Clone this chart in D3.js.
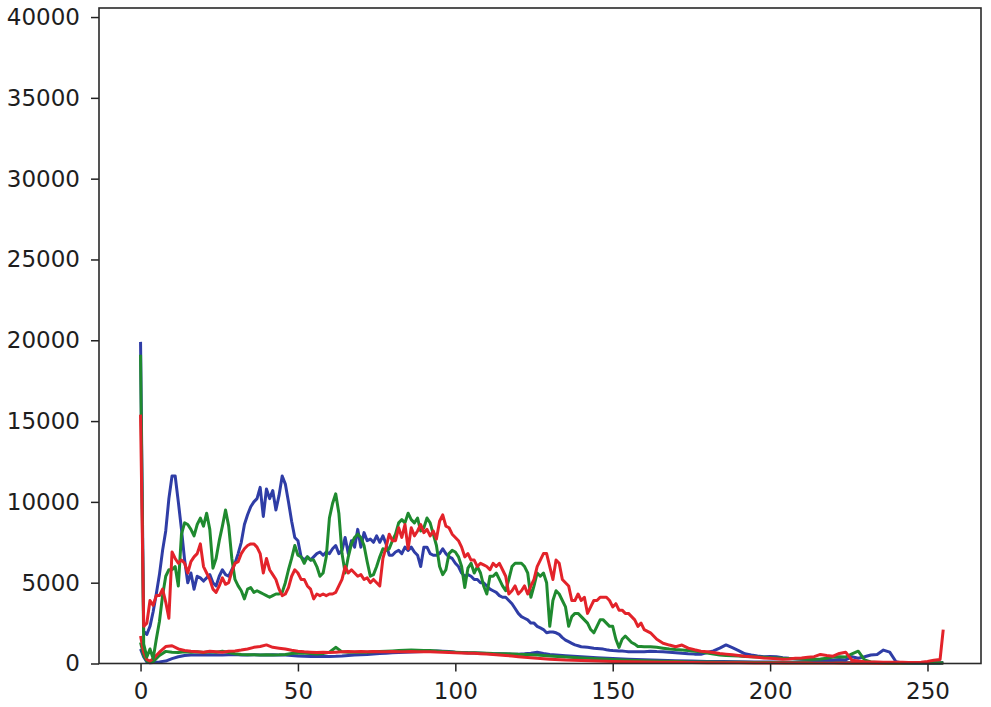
<!DOCTYPE html>
<html>
<head>
<meta charset="utf-8">
<script src="https://cdn.jsdelivr.net/npm/d3@7"></script>
<style>
  html, body { margin: 0; padding: 0; background: #fff; }
  svg { display: block; }
  .tick text { font-family: "DejaVu Sans", sans-serif; font-size: 23px; fill: #1e1e1e; }
</style>
</head>
<body>
<div id="chart"></div>
<script>
// intensity levels: every level up to 160, then every other level, then 255
const mainBins = d3.range(0, 161).concat(d3.range(162, 255, 2), [255]);
// the flat lower curves are sampled a bit coarser
const lowBins = [0, 1, 2, 3, 4].concat(d3.range(6, 131, 2), d3.range(135, 251, 5), [255]);

const xTicks = [0, 50, 100, 150, 200, 250];
const yTicks = [0, 5000, 10000, 15000, 20000, 25000, 30000, 35000, 40000];

const blueMain = [
  19900, 2000, 1800, 2300, 3200, 4300, 5500, 7000, 8200, 10200,
  11600, 11600, 10000, 8300, 6400, 5000, 5600, 4600, 5400, 5300,
  5100, 5300, 5500, 5000, 4800, 5400, 5800, 5500, 5400, 5800,
  6200, 6800, 7500, 8600, 9200, 9700, 10000, 10200, 10900, 9100,
  10800, 10200, 10700, 9500, 10400, 11600, 11100, 10000, 8800, 7800,
  7600, 6600, 6400, 6600, 6400, 6600, 6800, 6900, 6700, 6900,
  6800, 7100, 7300, 6800, 7000, 7800, 6800, 7600, 7200, 8300,
  7200, 8100, 7600, 7700, 7500, 7900, 7500, 7900, 7400, 6700,
  6700, 6900, 7000, 6800, 7200, 7000, 7200, 6900, 6700, 6000,
  7200, 7200, 6800, 6700, 6700, 6800, 7100, 6800, 6600, 6500,
  6200, 6000, 5600, 5400, 5500, 5400, 5200, 5200, 5000, 5000,
  4800, 4600, 4500, 4400, 4200, 4100, 4100, 3900, 3700, 3400,
  3100, 2900, 2800, 2700, 2500, 2500, 2300, 2200, 2100, 1900,
  1950, 1950, 1900, 1800, 1600, 1450, 1350, 1250, 1150, 1100,
  1040, 1020, 1000, 980, 950, 930, 910, 890, 850, 820,
  800, 790, 780, 770, 750, 730, 730, 730, 730, 730,
  720,
  760, 740, 730, 700, 670, 630, 600, 580, 570, 680,
  780, 950, 1150, 980, 800, 600, 530, 470, 420, 430,
  420, 360, 320, 290, 260, 240, 220, 230, 210, 220,
  240, 220, 420, 330, 420, 530, 560, 830, 700, 110,
  40, 30, 20, 20, 20, 20, 20,
  60
];

const greenMain = [
  19100, 1200, 400, 900, 300, 1500, 2600, 4200, 5400, 5800,
  5800, 6000, 4800, 8000, 8700, 8600, 8300, 7900, 8600, 9000,
  8500, 9300, 8300, 5900, 6500, 7600, 8500, 9500, 8500, 6500,
  5200, 4800, 4500, 4000, 4600, 4700, 4400, 4500, 4400, 4300,
  4200, 4100, 4200, 4300, 4300, 4400, 5000, 5800, 6500, 7300,
  6700, 6600, 6200, 6600, 6400, 6400, 6000, 5400, 5600, 6600,
  9000, 9900, 10500, 9300, 6800, 5600, 6600, 7400, 7800, 8000,
  7800, 7300, 6300, 5400, 5500, 6000, 6600, 7100, 7000, 7100,
  7600, 8000, 8700, 8900, 8700, 9300, 8900, 8700, 9000, 8200,
  8400, 9000, 8700, 8000, 7300, 6000, 5500, 5800, 6800, 7000,
  6900, 6600, 6000, 4700, 5900, 6200, 5600, 6000, 5600, 4800,
  4300, 5400, 5400, 5600, 5200, 4800, 4500, 5200, 6000, 6200,
  6200, 6200, 6000, 5600, 4100, 4800, 5600, 5400, 5600, 5000,
  2300, 3900, 4500, 4300, 3900, 3500, 2300, 2900, 3100, 3100,
  2900, 2700, 2500, 2100, 1900, 2300, 2700, 2700, 2500, 2300,
  2300, 1500, 1000, 1500, 1700, 1500, 1300, 1200, 1050, 1050,
  1040,
  1040, 1000, 950, 900, 860, 830, 800, 760, 730, 650,
  580, 520, 500, 480, 460, 440, 420, 400, 380, 360,
  340, 320, 310, 300, 280, 270, 260, 280, 330, 400,
  420, 400, 600, 760, 220, 100, 60, 40, 30, 30,
  30, 30, 30, 30, 30, 30, 30,
  40
];

const redMain = [
  15400, 2300, 2500, 3900, 3600, 4200, 4200, 4600, 3800, 2800,
  6900, 6500, 6200, 6400, 6200, 5600, 6300, 6600, 6800, 7400,
  6000, 5600, 5200, 4600, 4400, 4800, 5300, 4900, 5000, 5700,
  6200, 6300, 6800, 7100, 7300, 7400, 7400, 7200, 6800, 5600,
  6500, 5800, 5500, 5200, 4600, 4200, 4300, 4700, 5400, 5800,
  5600, 5200, 5200, 4800, 4600, 4000, 4300, 4200, 4300, 4200,
  4300, 4300, 4400, 4800, 5200, 6000, 5600, 5800, 5600, 5400,
  5500, 5200, 5300, 5000, 5200, 5000, 4800, 6500, 7200, 8000,
  7600, 7600, 8400, 7800, 8600, 7100, 8400, 7900, 8200, 8600,
  8100, 8300, 7900, 8200, 7700, 8800, 9200, 8500, 8400, 8000,
  7800, 7600, 7200, 6600, 6800, 6400, 6400, 6000, 6200, 6100,
  6000, 5800, 6200, 6000, 6200, 5800, 5400, 4300, 4500, 4800,
  4300, 4500, 4800, 4300, 4800, 5200, 6000, 6400, 6800, 6800,
  6000, 5200, 6400, 6200, 5200, 5000, 4800, 3900, 3900, 4300,
  3900, 4100, 3100, 3500, 3900, 3900, 4100, 4100, 4100, 3900,
  3500, 3700, 3300, 3300, 3100, 3100, 2900, 2700, 2300, 2500,
  2100,
  1900, 1500, 1250, 1140, 1040, 1140, 950, 850, 760, 730,
  680, 620, 580, 540, 500, 450, 420, 380, 340, 320,
  300, 260, 280, 320, 340, 380, 420, 560, 500, 450,
  620, 700, 200, 150, 110, 100, 90, 80, 80, 70,
  70, 60, 60, 80, 120, 200, 250,
  2100
];

const blueLow = [
  900, 400, 100, 50, 60,
  100, 150, 300, 420, 500, 530, 530, 520, 540, 530,
  520, 540, 550, 530, 520, 540, 530, 520, 540, 530,
  520, 500, 470, 450, 440, 430, 430, 440, 450, 470,
  500, 520, 540, 560, 590, 620, 640, 660, 680, 700,
  710, 720, 740, 760, 770, 760, 740, 700, 680, 660,
  650, 640, 620, 610, 600, 590, 580, 580, 600, 640,
  700, 620, 560,
  480, 420, 360, 310, 270, 230, 200, 170, 150, 130,
  120, 110, 100, 90, 80, 70, 60, 55, 50, 45,
  40, 35, 30, 30,
  30
];

const greenLow = [
  1300, 500, 150, 100, 120,
  500, 750, 700, 680, 720, 700, 730, 680, 720, 700,
  760, 680, 600, 560, 540, 540, 530, 540, 530, 540,
  560, 620, 650, 640, 620, 580, 620, 700, 1000, 720,
  700, 700, 690, 700, 720, 740, 760, 780, 800, 820,
  830, 820, 810, 800, 780, 750, 720, 700, 680, 670,
  660, 650, 640, 620, 610, 600, 590, 570, 560, 540,
  520, 490, 460,
  400, 340, 290, 240, 200, 170, 140, 120, 100, 90,
  80, 70, 60, 55, 50, 45, 40, 40, 35, 30,
  30, 25, 25, 25,
  30
];

const redLow = [
  1700, 700, 250, 150, 300,
  700, 1050, 1100, 900, 800, 760, 730, 700, 760, 730,
  700, 760, 780, 830, 900, 1000, 1050, 1150, 1000, 950,
  900, 820, 760, 720, 700, 680, 700, 680, 700, 720,
  740, 730, 740, 720, 740, 730, 720, 740, 730, 720,
  740, 730, 720, 730, 710, 700, 680, 660, 650, 640,
  630, 610, 590, 560, 530, 500, 460, 420, 380, 350,
  320, 300, 270,
  210, 180, 150, 130, 110, 90, 80, 70, 60, 50,
  45, 40, 35, 30, 30, 30, 30, 25, 25, 25,
  20, 20, 20, 20,
  30
];

const series = [
  { bins: lowBins, values: blueLow, color: "#2f3da6" },
  { bins: lowBins, values: greenLow, color: "#1f8a2f" },
  { bins: lowBins, values: redLow, color: "#e3232a" },
  { bins: mainBins, values: blueMain, color: "#2f3da6" },
  { bins: mainBins, values: greenMain, color: "#1f8a2f" },
  { bins: mainBins, values: redMain, color: "#e3232a" }
];

const width = 991, height = 707;
const plot = { left: 99, right: 981, top: 8, bottom: 663.5 };

const svg = d3.select("#chart").append("svg")
  .attr("width", width)
  .attr("height", height);

const x = d3.scaleLinear().domain([-13.2, 267]).range([plot.left, plot.right]);
const y = d3.scaleLinear().domain([0, 40560]).range([plot.bottom, plot.top]);

const line = d3.line()
  .x(d => x(d[0]))
  .y(d => y(d[1]));

series.forEach(s => {
  const pts = s.bins.map((b, i) => [b, s.values[i]]);
  svg.append("path")
    .datum(pts)
    .attr("fill", "none")
    .attr("stroke", s.color)
    .attr("stroke-width", 3)
    .attr("stroke-linejoin", "round")
    .attr("d", line);
});

// axes
const xAxis = svg.append("g")
  .attr("transform", `translate(0,${plot.bottom})`)
  .call(d3.axisBottom(x).tickValues(xTicks).tickFormat(d3.format("d"))
    .tickSize(8).tickPadding(11).tickSizeOuter(0));
const yAxis = svg.append("g")
  .attr("transform", `translate(${plot.left},0)`)
  .call(d3.axisLeft(y).tickValues(yTicks).tickFormat(d3.format("d"))
    .tickSize(8).tickPadding(11).tickSizeOuter(0));

[xAxis, yAxis].forEach(g => {
  g.select(".domain").remove();
  g.selectAll(".tick line").attr("stroke", "#222").attr("stroke-width", 1.5);
});

// frame
svg.append("rect")
  .attr("x", plot.left)
  .attr("y", plot.top)
  .attr("width", plot.right - plot.left)
  .attr("height", plot.bottom - plot.top)
  .attr("fill", "none")
  .attr("stroke", "#2a2a2a")
  .attr("stroke-width", 1.6);
</script>
</body>
</html>
